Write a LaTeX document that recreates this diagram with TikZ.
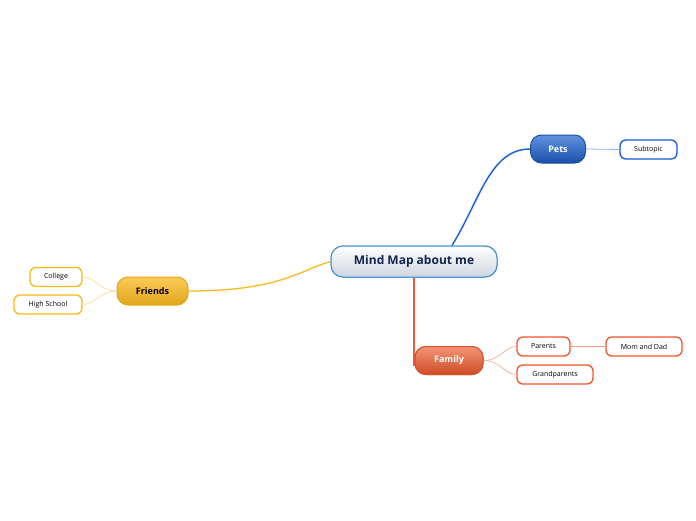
\documentclass[tikz,border=0pt]{standalone}
\usepackage{fontspec}
\setmainfont{Open Sans}
\begin{document}
\begin{tikzpicture}[x=1pt,y=-1pt,
 base/.style={rounded corners=8pt,inner sep=0pt,align=center},
 central/.style={base,draw={rgb,255:red,60;green,140;blue,210},line width=1pt,top color=white,bottom color={rgb,255:red,205;green,215;blue,222},text={rgb,255:red,20;green,35;blue,80},font=\bfseries\fontsize{12}{14}\selectfont,minimum width=166pt,minimum height=31pt,rounded corners=12pt},
 main/.style={base,line width=1pt,font=\bfseries\fontsize{9}{11}\selectfont,minimum height=28pt,rounded corners=11pt},
 sub/.style={base,fill=white,line width=1.3pt,font=\fontsize{7}{9}\selectfont,minimum height=19pt,rounded corners=6pt},
 bl/.style={draw={rgb,255:red,20;green,90;blue,210}},
 og/.style={draw={rgb,255:red,240;green,85;blue,40}},
 yl/.style={draw={rgb,255:red,250;green,185;blue,20}},
]
\useasboundingbox (0,0) rectangle (696,520);
\definecolor{blueC}{RGB}{30,100,210}
\definecolor{orC}{RGB}{240,90,45}
\definecolor{yeC}{RGB}{250,185,30}
\node[central] (c) at (414,261.5) {Mind Map about me};
\node[main,draw=blueC!80!black,top color=blueC!70!white,bottom color=blueC!80!black,text=white,minimum width=55pt] (pets) at (558,149) {Pets};
\node[main,draw=orC!90!black,top color=orC!65!white,bottom color=orC!85!black,text=white,minimum width=68pt] (fam) at (449,360.5) {Family};
\node[main,draw=yeC!90!black,top color=yeC!75!white,bottom color=yeC!90!black,text=black,minimum width=71pt] (fr) at (152.5,291) {Friends};
\node[sub,bl,minimum width=57pt] (st) at (648.5,149.5) {Subtopic};
\node[sub,og,minimum width=53pt] (par) at (543.5,346.5) {Parents};
\node[sub,og,minimum width=76pt] (mom) at (644,346.5) {Mom and Dad};
\node[sub,og,minimum width=76pt] (gp) at (555,374.5) {Grandparents};
\node[sub,yl,minimum width=52pt] (col) at (56,277) {College};
\node[sub,yl,minimum width=68pt] (hs) at (48,304.5) {High School};
% connectors
\draw[blueC,line width=1.5pt] ([xshift=38pt]c.north) .. controls (480,200) and (490,149) .. (pets.west);
\draw[blueC!50,line width=0.8pt] (pets.east) -- (st.west);
\draw[orC,line width=1.5pt] (c.south) ++(0,0) coordinate (cs) -- ([yshift=-5pt]cs |- fam.center) coordinate (ce);
\draw[orC!50,line width=0.7pt] (fam.east) .. controls (500,360.5) and (505,346.5) .. (par.west);
\draw[orC!50,line width=0.7pt] (fam.east) .. controls (500,360.5) and (505,374.5) .. (gp.west);
\draw[orC!60,line width=0.7pt] (par.east) -- (mom.west);
\draw[yeC,line width=1.3pt] (fr.east) .. controls (280,291) and (300,270) .. (c.west);
\draw[yeC!50,line width=0.7pt] (fr.west) .. controls (100,291) and (95,277) .. (col.east);
\draw[yeC!50,line width=0.7pt] (fr.west) .. controls (100,291) and (95,304.5) .. (hs.east);
\node[main,draw=orC!90!black,top color=orC!65!white,bottom color=orC!85!black,text=white,minimum width=68pt] at (fam) {Family};
\node[central] at (c) {Mind Map about me};
\end{tikzpicture}
\end{document}
